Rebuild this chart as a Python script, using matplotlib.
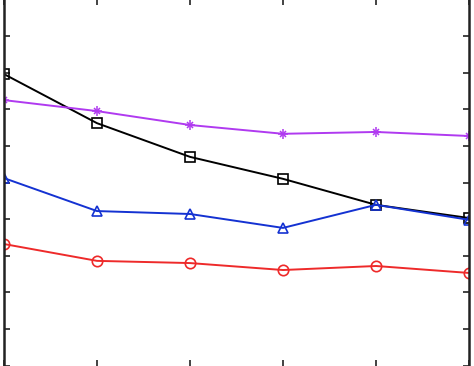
import matplotlib
matplotlib.use("Agg")
import matplotlib.pyplot as plt

x = [1, 2, 3, 4, 5, 6]
black_sq = [7.96, 6.62, 5.70, 5.10, 4.39, 4.03]
purple_star = [7.25, 6.95, 6.57, 6.33, 6.38, 6.27]
blue_tri = [5.12, 4.22, 4.14, 3.76, 4.39, 3.98]
red_circ = [3.32, 2.86, 2.80, 2.61, 2.72, 2.53]

fig = plt.figure(figsize=(4.74, 3.66), dpi=100)
ax = fig.add_axes([4/474, 0.4/366, 465/474, 366.2/366])

purple = '#b03af0'
ax.plot(x, black_sq, color='black', marker='s', mfc='none', ms=6.5, lw=1.4, mew=1.2)
ax.plot(x, purple_star, color=purple, marker='+', ms=7, lw=1.4, mew=1.1)
ax.plot(x, purple_star, color=purple, marker='x', ms=5, lw=0, mew=1.1)
ax.plot(x, blue_tri, color='#1432d2', marker='^', mfc='none', ms=7, lw=1.4, mew=1.2)
ax.plot(x, red_circ, color='#ee2a2a', marker='o', mfc='none', ms=7.5, lw=1.4, mew=1.2)

ax.set_xlim(1, 6)
ax.set_ylim(0, 10)
ax.set_xticks(x)
ax.set_yticks(range(0, 11))
ax.set_xticklabels([])
ax.set_yticklabels([])
ax.tick_params(direction='in', length=4, width=1.2, top=True, right=True, color='#222222')
for s in ax.spines.values():
    s.set_linewidth(1.8)
    s.set_color('#222222')
ax.spines['top'].set_visible(False)
ax.spines['bottom'].set_visible(False)

fig.savefig('out.png', dpi=100)
